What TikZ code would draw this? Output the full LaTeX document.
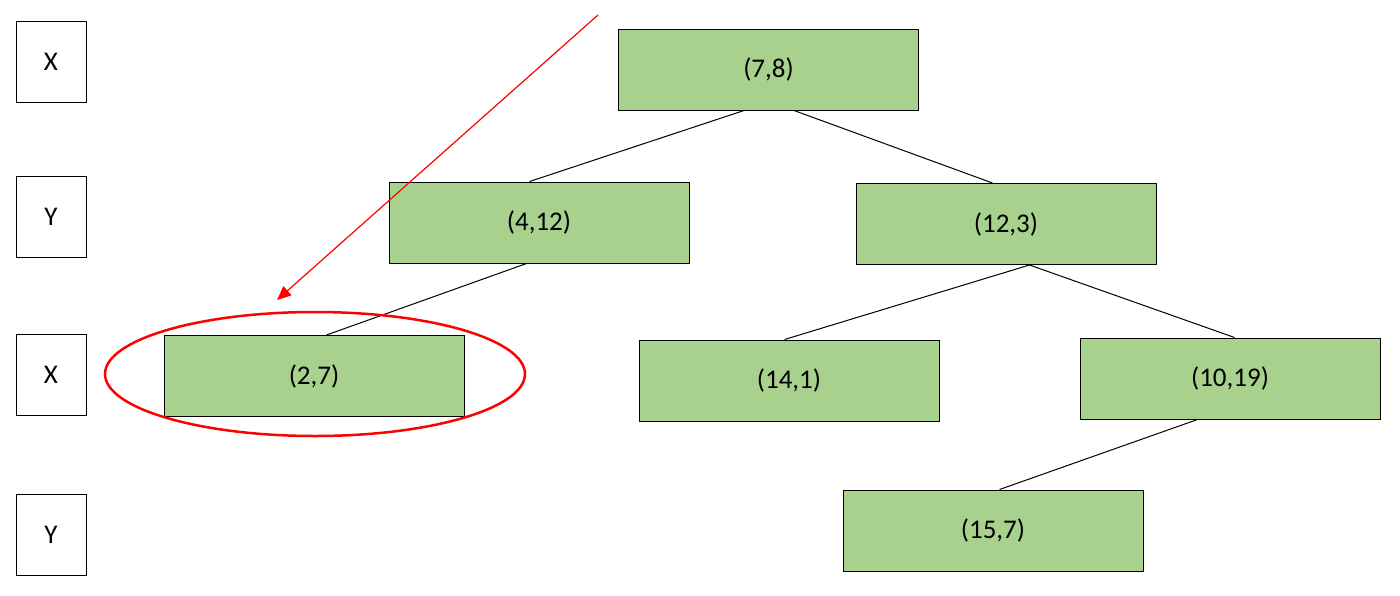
\documentclass[tikz,border=0pt]{standalone}
\usepackage{fontspec}
\setmainfont{Carlito}
\usetikzlibrary{calc,arrows.meta}
\begin{document}
\begin{tikzpicture}[x=1pt,y=-1pt,
  kd/.style={draw=black,line width=1pt,fill={rgb,255:red,169;green,209;blue,142},minimum width=300pt,minimum height=81pt,inner sep=0pt,font=\fontsize{27}{30}\selectfont},
  lab/.style={draw=black,line width=1pt,minimum width=70pt,minimum height=81pt,inner sep=0pt,font=\fontsize{27}{30}\selectfont},
  edge/.style={line width=1pt}]
\useasboundingbox (0,0) rectangle (1400,595);
\node[lab] (l1) at (51,62) {X};
\node[lab] (l2) at (51,217) {Y};
\node[lab] (l3) at (51,375) {X};
\node[lab] (l4) at (51,535) {Y};
\node[kd] (a) at (768.5,69.5) {(7,8)};
\node[kd] (b) at (539,222.5) {(4,12)};
\node[kd] (c) at (1006,224) {(12,3)};
\node[kd] (d) at (314,376) {(2,7)};
\node[kd] (e) at (789,380.5) {(14,1)};
\node[kd] (f) at (1230,378.5) {(10,19)};
\node[kd] (g) at (993,530.5) {(15,7)};
\draw[edge] ($(a.south west)+(126,0)$) -- ($(b.north west)+(141,0)$);
\draw[edge] ($(a.south west)+(176,0)$) -- ($(c.north west)+(137,0)$);
\draw[edge] ($(b.south west)+(138,0)$) -- ($(d.north west)+(163,0)$);
\draw[edge] ($(c.south west)+(174,0)$) -- ($(e.north west)+(146,0)$);
\draw[edge] ($(c.south west)+(174,0)$) -- ($(f.north west)+(155,0)$);
\draw[edge] ($(f.south west)+(118,0)$) -- ($(g.north west)+(157,0)$);
\coordinate (s) at (598,15);
\coordinate (t) at (277,300);
\draw[red,line width=1.2pt,-{Triangle[length=14pt,width=12pt]}] (s) -- (t);
\draw[red,line width=2.5pt] (315,374) ellipse [x radius=210, y radius=62];
\end{tikzpicture}
\end{document}
